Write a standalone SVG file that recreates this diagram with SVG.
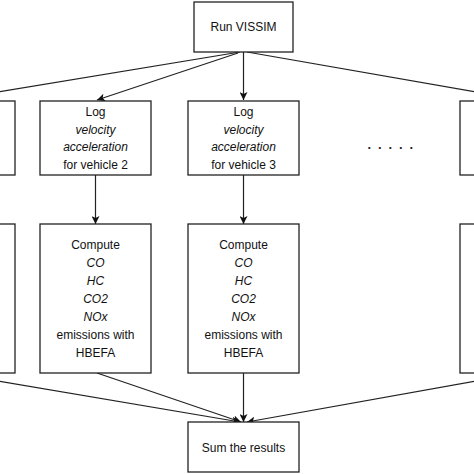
<svg xmlns="http://www.w3.org/2000/svg" width="474" height="474" viewBox="0 0 474 474">
<style>
.box{fill:#fff;stroke:#222;stroke-width:1.3}
.t{font-family:"Liberation Sans",Arial,sans-serif;font-size:12px;fill:#111;text-anchor:middle}
.i{font-style:italic}
.c{fill:none;stroke:#222;stroke-width:1.2}
</style>
<defs>
<marker id="a" viewBox="0 0 10 10" refX="10" refY="5" markerWidth="8" markerHeight="8" markerUnits="userSpaceOnUse" orient="auto">
<path d="M0,0 L10,5 L0,10 L2.5,5 Z" fill="#111"/>
</marker>
</defs>
<rect width="474" height="474" fill="#fff"/>
<g id="connectors">
<line class="c" x1="240" y1="52" x2="-2" y2="92"/>
<line class="c" x1="238" y1="53" x2="97" y2="100" marker-end="url(#a)"/>
<line class="c" x1="243.5" y1="52" x2="243.5" y2="100" marker-end="url(#a)"/>
<line class="c" x1="247" y1="52" x2="476" y2="92"/>
<line class="c" x1="95.5" y1="175" x2="95.5" y2="224" marker-end="url(#a)"/>
<line class="c" x1="243.5" y1="175" x2="243.5" y2="224" marker-end="url(#a)"/>
<line class="c" x1="-2" y1="381" x2="240" y2="422" marker-end="url(#a)"/>
<line class="c" x1="97" y1="373" x2="241" y2="422" marker-end="url(#a)"/>
<line class="c" x1="243.5" y1="373" x2="243.5" y2="422" marker-end="url(#a)"/>
<line class="c" x1="476" y1="381" x2="247" y2="422" marker-end="url(#a)"/>
</g>
<g id="run">
<rect class="box" x="194" y="2" width="99" height="50"/>
<text class="t" x="243.5" y="31">Run VISSIM</text>
</g>
<g id="log1"><rect class="box" x="-20" y="101" width="35" height="74"/></g>
<g id="log2">
<rect class="box" x="40" y="101" width="111" height="74"/>
<text class="t" x="95.5" y="116">Log</text>
<text class="t i" x="95.5" y="134">velocity</text>
<text class="t i" x="95.5" y="151">acceleration</text>
<text class="t" x="95.5" y="169">for vehicle 2</text>
</g>
<g id="log3">
<rect class="box" x="188" y="101" width="111" height="74"/>
<text class="t" x="243.5" y="116">Log</text>
<text class="t i" x="243.5" y="134">velocity</text>
<text class="t i" x="243.5" y="151">acceleration</text>
<text class="t" x="243.5" y="169">for vehicle 3</text>
</g>
<g id="dots">
<text x="367.5" y="148.5" style="font-family:'Liberation Sans',Arial,sans-serif;font-size:13px;font-weight:bold;fill:#222;letter-spacing:6.9px">.....</text>
</g>
<g id="logN"><rect class="box" x="460" y="101" width="40" height="74"/></g>
<g id="comp1"><rect class="box" x="-20" y="224" width="35" height="149"/></g>
<g id="comp2">
<rect class="box" x="40" y="224" width="111" height="149"/>
<text class="t" x="95.5" y="249">Compute</text>
<text class="t i" x="95.5" y="267">CO</text>
<text class="t i" x="95.5" y="285">HC</text>
<text class="t i" x="95.5" y="303">CO2</text>
<text class="t i" x="95.5" y="321">NOx</text>
<text class="t" x="95.5" y="339">emissions with</text>
<text class="t" x="95.5" y="357">HBEFA</text>
</g>
<g id="comp3">
<rect class="box" x="188" y="224" width="111" height="149"/>
<text class="t" x="243.5" y="249">Compute</text>
<text class="t i" x="243.5" y="267">CO</text>
<text class="t i" x="243.5" y="285">HC</text>
<text class="t i" x="243.5" y="303">CO2</text>
<text class="t i" x="243.5" y="321">NOx</text>
<text class="t" x="243.5" y="339">emissions with</text>
<text class="t" x="243.5" y="357">HBEFA</text>
</g>
<g id="compN"><rect class="box" x="460" y="224" width="40" height="149"/></g>
<g id="sum">
<rect class="box" x="188" y="422" width="111" height="50"/>
<text class="t" x="243.5" y="452">Sum the results</text>
</g>
</svg>
